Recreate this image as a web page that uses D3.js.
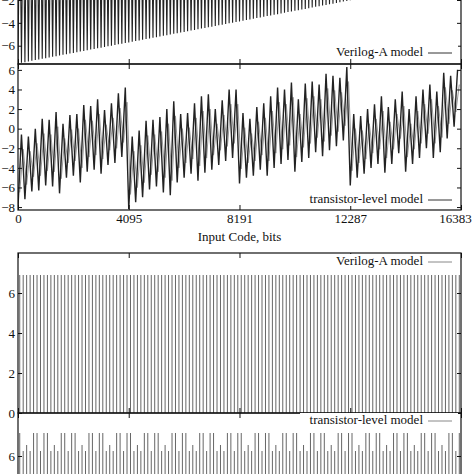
<!DOCTYPE html><html><head><meta charset="utf-8"><script src="https://cdn.jsdelivr.net/npm/d3@7"></script>
<style>body{margin:0;background:#fff}svg{display:block}text{font-family:"Liberation Serif","DejaVu Serif",serif;font-size:13px;fill:#111}</style></head><body><script>
const xTicks=[0,4095,8191,12287,16383];
const xLabel="Input Code, bits";
const aTroughs=[-7.55,-7.49,-7.44,-7.38,-7.32,-7.26,-7.20,-7.15,-7.09,-7.03,-6.97,-6.92,-6.86,-6.80,-6.74,-6.69,-6.63,-6.57,-6.51,-6.46,-6.40,-6.34,-6.28,-6.23,-6.17,-6.11,-6.05,-6.00,-5.94,-5.88,-5.82,-5.77,-5.71,-5.65,-5.59,-5.54,-5.48,-5.42,-5.36,-5.31,-5.25,-5.19,-5.13,-5.08,-5.02,-4.96,-4.90,-4.85,-4.79,-4.73,-4.67,-4.62,-4.56,-4.50,-4.44,-4.39,-4.33,-4.27,-4.21,-4.16,-4.10,-4.04,-3.98,-3.93,-3.87,-3.81,-3.75,-3.70,-3.64,-3.58,-3.52,-3.47,-3.41,-3.35,-3.29,-3.24,-3.18,-3.12,-3.06,-3.01,-2.95,-2.89,-2.83,-2.78,-2.72,-2.66,-2.60,-2.55,-2.49,-2.43,-2.37,-2.32,-2.26,-2.20,-2.14,-2.09,-2.03,-1.97,-1.91,-1.86,-1.80,-1.74,-1.68,-1.63,-1.57,-1.51,-1.45,-1.40,-1.34,-1.28,-1.22,-1.17,-1.11,-1.05,-0.99,-0.94,-0.88,-0.82,-0.76,-0.71,-0.65,-0.59,-0.53,-0.48,-0.42,-0.36,-0.30,-0.25];
const aPeak=7.5;
const bPeaks=[-0.6,-0.8,0,1,0.9,1.7,0.5,1.4,1.5,2.4,2.3,3.0,1.9,2.6,3.6,4.2,
 -0.8,-0.2,0.8,0.9,1.2,2.0,2.8,1.5,1.6,2.6,3.3,3.5,2.0,2.9,4.0,4.0,
 1.6,1.0,2.2,2.6,3.3,4.2,4.0,4.7,3.0,4.6,4.8,4.5,5.6,5.4,5.2,6.3,
 1.5,1.3,2.0,2.5,3.3,2.2,3.0,3.8,2.0,3.3,4.0,4.5,3.8,5.7,5.4,6.0];
const bTroughs=[-8.0,-7.2,-6.4,-6.3,-5.8,-5.9,-6.6,-5.0,-4.8,-5.5,-4.4,-4.2,-4.6,-3.7,-3.5,-2.9,
 -8.2,-7.5,-7.0,-6.2,-5.9,-6.5,-6.8,-5.5,-5.0,-4.6,-5.3,-4.5,-4.2,-3.7,-3.3,-3.0,
 -5.6,-5.0,-4.8,-4.2,-4.8,-4.0,-3.6,-3.2,-4.4,-3.4,-3.0,-2.4,-2.8,-2.2,-1.8,-1.2,
 -5.8,-5.0,-4.6,-4.0,-3.6,-4.5,-3.6,-2.5,-4.4,-3.6,-3.0,-2.0,-3.0,-2.4,-1.0,0.2];
const cHeight=6.9;
const cCount=128;
const dPattern=[7.15,6.25,6.55,6.25,7.15,7.15,6.25,7.15,7.15,6.25,6.55,6.25,7.15,7.15,6.25,7.15,7.15,6.25,6.55,6.25,7.15,7.15,6.25,7.15,7.15,6.25,6.55,6.25,7.15,7.15,6.25,7.15];
const dHeights=[...dPattern,...dPattern,...dPattern,...dPattern];

const W=474,H=474,L=18,R=461;
const svg=d3.select("body").append("svg").attr("width",W).attr("height",H);
const x=d3.scaleLinear().domain([0,16383]).range([L,R]);
function panel(y,top,bottom,yticks,legend,legY,gray,xlab,id){
  svg.append("clipPath").attr("id",id).append("rect").attr("x",L).attr("y",top).attr("width",R-L).attr("height",bottom-top);
  const g=svg.append("g").attr("clip-path",`url(#${id})`);
  svg.append("g").attr("transform",`translate(${L},0)`).call(d3.axisLeft(y).tickValues(yticks).tickSize(-4).tickPadding(3).tickFormat(d3.format("d"))).call(a=>{a.select(".domain").remove();a.selectAll("line").attr("stroke","#111");});
  svg.append("g").attr("transform",`translate(${R},0)`).call(d3.axisRight(y).tickValues(yticks).tickSize(-4).tickFormat("")).call(a=>{a.select(".domain").remove();a.selectAll("line").attr("stroke","#111");});
  const bx=svg.append("g").attr("transform",`translate(0,${bottom})`).call(d3.axisBottom(x).tickValues(xTicks).tickSize(-5).tickPadding(4).tickFormat(xlab?d3.format("d"):"")).call(a=>{a.select(".domain").remove();a.selectAll("line").attr("stroke","#111");});
  bx.selectAll(".tick text").filter(d=>d===16383).attr("dx",-6);
  svg.append("g").attr("transform",`translate(0,${top})`).call(d3.axisTop(x).tickValues(xTicks).tickSize(-5).tickFormat("")).call(a=>{a.select(".domain").remove();a.selectAll("line").attr("stroke","#111");});
  svg.append("rect").attr("x",L).attr("y",top).attr("width",R-L).attr("height",bottom-top).attr("fill","none").attr("stroke","#111").attr("stroke-width",1.2);
  const lg=svg.append("g");
  lg.append("rect").attr("x",300).attr("y",legY-11).attr("width",158).attr("height",14).attr("fill","#fff");
  lg.append("text").attr("x",423).attr("y",legY).attr("text-anchor","end").text(legend);
  lg.append("line").attr("x1",428).attr("x2",452).attr("y1",legY-3).attr("y2",legY-3).attr("stroke",gray?"#888":"#333");
  svg.selectAll("g.tick text").style("font-family",'"Liberation Serif",serif').style("font-size","13px").attr("fill","#111");
  return g;
}
const yA=d3.scaleLinear().domain([-7.6,-2]).range([64,0]);
(function(){
 const g=panel(yA,-60,64,[-6,-4,-2],"Verilog-A model",56,false,false,"cA");
 const pts=[];aTroughs.forEach((t,i)=>{pts.push([i*128,t]);pts.push([i*128+64,aPeak]);});
 g.append("path").attr("d",d3.line().x(d=>x(d[0])).y(d=>yA(d[1]))(pts)).attr("fill","none").attr("stroke","#222").attr("stroke-width",1.1);
})();
const yB=d3.scaleLinear().domain([-8.3,6.6]).range([210,64]);
(function(){
 const g=panel(yB,64,210,[-8,-6,-4,-2,0,2,4,6],"transistor-level model",203,false,true,"cB");
 const pts2=[];bPeaks.forEach((p,i)=>{pts2.push([i*256+64,bTroughs[i]+1.5]);pts2.push([i*256+192,p-1.5]);});
 g.append("path").attr("d",d3.line().x(d=>x(d[0])).y(d=>yB(d[1]))(pts2)).attr("fill","none").attr("stroke","#999").attr("stroke-width",1);
 const pts=[];bPeaks.forEach((p,i)=>{pts.push([i*256,bTroughs[i]]);pts.push([i*256+128,p]);});
 g.append("path").attr("d",d3.line().x(d=>x(d[0])).y(d=>yB(d[1]))(pts)).attr("fill","none").attr("stroke","#222").attr("stroke-width",1.4);
})();
svg.append("text").attr("x",(L+R)/2).attr("y",241).attr("text-anchor","middle").text(xLabel);
const yC=d3.scaleLinear().domain([0,8]).range([413,253]);
(function(){
 const g=panel(yC,253,413,[0,2,4,6],"Verilog-A model",265,true,false,"cC");
 g.selectAll("line.s").data(d3.range(cCount)).join("line").attr("x1",i=>x(i*128+64)).attr("x2",i=>x(i*128+64)).attr("y1",yC(0)).attr("y2",yC(cHeight)).attr("stroke","#666").attr("stroke-width",1);
})();
const yD=d3.scaleLinear().domain([0,8.15]).range([576,413]);
(function(){
 const g=panel(yD,413,576,[6],"transistor-level model",424,true,false,"cD");
 g.selectAll("line.s").data(dHeights).join("line").attr("x1",(d,i)=>x(i*128+64)).attr("x2",(d,i)=>x(i*128+64)).attr("y1",yD(0)).attr("y2",d=>yD(d)).attr("stroke","#666").attr("stroke-width",1);
})();
</script></body></html>
